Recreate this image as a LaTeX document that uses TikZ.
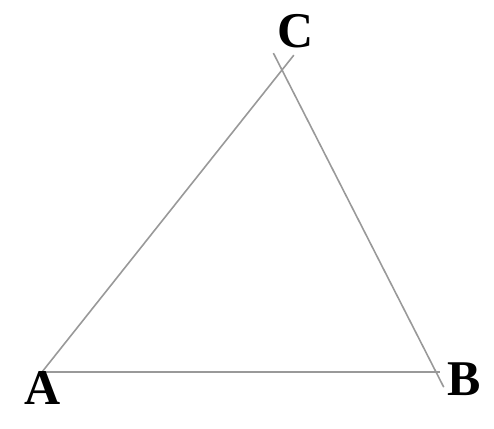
\documentclass[tikz,border=0pt]{standalone}
\usepackage{fontspec}
\setmainfont{Liberation Serif}
\usepackage{xcolor}
\usepackage{tikz}
\usetikzlibrary{positioning,calc}

\tikzset{
    side/.style={draw=black!40, line width=1.6pt},
    vlabel/.style={font=\fontsize{50}{50}\selectfont\bfseries, inner sep=0pt}
}

\begin{document}
\begin{tikzpicture}[x=1pt,y=-1pt]
    \useasboundingbox (0,0) rectangle (494,428);

    % Vertices
    \coordinate (A) at (42,372);
    \coordinate (B) at (436,372);
    \coordinate (C) at (282,70);

    % Sides, a little past the corners
    \draw[side, shorten >=-4pt] (A) -- (B);
    \draw[side, shorten >=-19pt] (A) -- (C);
    \draw[side, shorten <=-19pt, shorten >=-17pt] (C) -- (B);

    % Labels
    \node[vlabel] (labA) at (43,388) {A};
    \node[vlabel] (labB) at (464,379) {B};
    \node[vlabel] (labC) at (296,31) {C};
\end{tikzpicture}
\end{document}
